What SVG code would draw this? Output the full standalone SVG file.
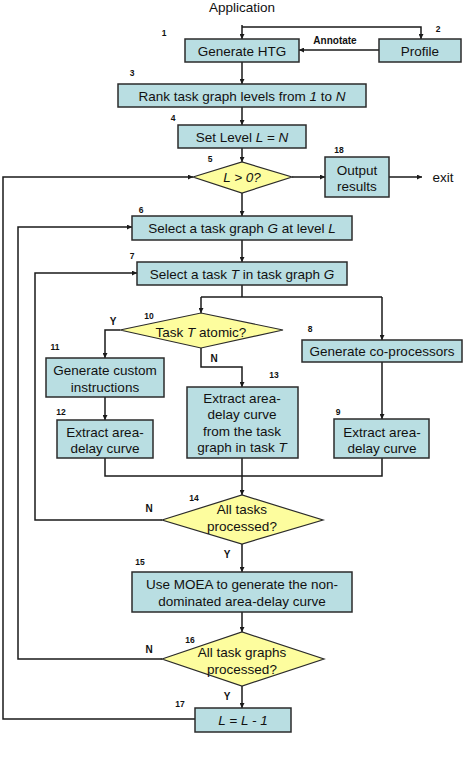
<svg xmlns="http://www.w3.org/2000/svg" width="474" height="758" viewBox="0 0 474 758">
<style>
.box{fill:#b9dee2;stroke:#2b2b2b;stroke-width:1.5}
.dia{fill:#fdfd9e;stroke:#2b2b2b;stroke-width:1.2}
.t{font-family:"Liberation Sans",Arial,sans-serif;font-size:13.5px;fill:#111;text-anchor:middle}
.i{font-style:italic}
.n{font-family:"Liberation Sans",Arial,sans-serif;font-size:8.5px;font-weight:bold;fill:#111;text-anchor:middle}
.l{font-family:"Liberation Sans",Arial,sans-serif;font-size:10px;font-weight:bold;fill:#111;text-anchor:middle}
.c{fill:none;stroke:#1a1a1a;stroke-width:1.5}
</style>
<defs>
<marker id="ah" viewBox="0 0 8 8" refX="8" refY="4" markerWidth="5" markerHeight="5" orient="auto" markerUnits="userSpaceOnUse">
<path d="M0,0 L8,4 L0,8 z" fill="#1a1a1a"/>
</marker>
</defs>
<rect width="474" height="758" fill="#fff"/>
<g id="connectors">
<path class="c" d="M242,25 V39" marker-end="url(#ah)"/>
<path class="c" d="M242,27 H421 V39" marker-end="url(#ah)"/>
<path class="c" d="M379,50 H299" marker-end="url(#ah)"/>
<path class="c" d="M242,62 V84" marker-end="url(#ah)"/>
<path class="c" d="M242,107 V125" marker-end="url(#ah)"/>
<path class="c" d="M242,148 V162" marker-end="url(#ah)"/>
<path class="c" d="M292,177 H325" marker-end="url(#ah)"/>
<path class="c" d="M389,177 H422" marker-end="url(#ah)"/>
<path class="c" d="M242,193 V216" marker-end="url(#ah)"/>
<path class="c" d="M242,240 V262" marker-end="url(#ah)"/>
<path class="c" d="M242,285 V297"/>
<path class="c" d="M201,297 H382"/>
<path class="c" d="M201,297 V313" marker-end="url(#ah)"/>
<path class="c" d="M382,297 V340" marker-end="url(#ah)"/>
<path class="c" d="M120,330 H105 V358" marker-end="url(#ah)"/>
<path class="c" d="M201,348 V367 H242 V387" marker-end="url(#ah)"/>
<path class="c" d="M105,397 V420" marker-end="url(#ah)"/>
<path class="c" d="M382,362 V419" marker-end="url(#ah)"/>
<path class="c" d="M105,458 V476 H382 V458"/>
<path class="c" d="M242,458 V495" marker-end="url(#ah)"/>
<path class="c" d="M242,544 V572" marker-end="url(#ah)"/>
<path class="c" d="M242,612 V632" marker-end="url(#ah)"/>
<path class="c" d="M242,686 V708" marker-end="url(#ah)"/>
<path class="c" d="M162,520 H35 V273 H137" marker-end="url(#ah)"/>
<path class="c" d="M162,659 H18 V227 H132" marker-end="url(#ah)"/>
<path class="c" d="M195,719 H3 V177 H193" marker-end="url(#ah)"/>
</g>
<g id="app"><text class="t" x="242" y="12">Application</text></g>
<text class="l" x="335" y="44">Annotate</text>
<g id="n1"><rect class="box" x="185" y="39" width="114" height="23"/><text class="t" x="242" y="55.5">Generate HTG</text><text class="n" x="164" y="36">1</text></g>
<g id="n2"><rect class="box" x="379" y="39" width="82" height="23"/><text class="t" x="420" y="55.5">Profile</text><text class="n" x="438" y="32">2</text></g>
<g id="n3"><rect class="box" x="118" y="84" width="248" height="23"/><text class="t" x="242" y="100.5">Rank task graph levels from <tspan class="i">1</tspan> to <tspan class="i">N</tspan></text><text class="n" x="132" y="76">3</text></g>
<g id="n4"><rect class="box" x="178" y="125" width="128" height="23"/><text class="t" x="242" y="141.5">Set Level <tspan class="i">L</tspan> = <tspan class="i">N</tspan></text><text class="n" x="173" y="121">4</text></g>
<g id="n5"><polygon class="dia" points="193,177 242,162 292,177 242,193"/><text class="t i" x="242" y="182">L &gt; 0?</text><text class="n" x="210" y="162">5</text></g>
<g id="n18"><rect class="box" x="325" y="157" width="64" height="40"/><text class="t" x="357" y="174.5">Output</text><text class="t" x="357" y="190.5">results</text><text class="n" x="339" y="153">18</text></g>
<g id="exit"><text class="t" x="443" y="182">exit</text></g>
<g id="n6"><rect class="box" x="132" y="216" width="220" height="24"/><text class="t" x="242" y="232.5">Select a task graph <tspan class="i">G</tspan> at level <tspan class="i">L</tspan></text><text class="n" x="141" y="213">6</text></g>
<g id="n7"><rect class="box" x="137" y="262" width="210" height="23"/><text class="t" x="242" y="278.5">Select a task <tspan class="i">T</tspan> in task graph <tspan class="i">G</tspan></text><text class="n" x="132" y="259">7</text></g>
<g id="n10"><polygon class="dia" points="120,330 201,313 283,330 201,348"/><text class="t" x="201" y="337">Task <tspan class="i">T</tspan> atomic?</text><text class="n" x="149" y="319">10</text><text class="l" x="113" y="325">Y</text><text class="l" x="214" y="362">N</text></g>
<g id="n8"><rect class="box" x="302" y="340" width="160" height="22"/><text class="t" x="382" y="355.5">Generate co-processors</text><text class="n" x="310" y="332">8</text></g>
<g id="n11"><rect class="box" x="46" y="358" width="118" height="39"/><text class="t" x="105" y="374.5">Generate custom</text><text class="t" x="105" y="391.5">instructions</text><text class="n" x="55" y="350">11</text></g>
<g id="n12"><rect class="box" x="57" y="420" width="96" height="38"/><text class="t" x="105" y="436.5">Extract area-</text><text class="t" x="105" y="452.5">delay curve</text><text class="n" x="61" y="415">12</text></g>
<g id="n13"><rect class="box" x="187" y="387" width="111" height="71"/><text class="t" x="242" y="402.5">Extract area-</text><text class="t" x="242" y="419">delay curve</text><text class="t" x="242" y="435.5">from the task</text><text class="t" x="242" y="451.5">graph in task <tspan class="i">T</tspan></text><text class="n" x="274" y="378">13</text></g>
<g id="n9"><rect class="box" x="334" y="419" width="95" height="39"/><text class="t" x="382" y="436.5">Extract area-</text><text class="t" x="382" y="452.5">delay curve</text><text class="n" x="338" y="415">9</text></g>
<g id="n14"><polygon class="dia" points="162,520 242,495 323,520 242,544"/><text class="t" x="242" y="513.5">All tasks</text><text class="t" x="242" y="530.5">processed?</text><text class="n" x="194" y="501">14</text><text class="l" x="149" y="512">N</text><text class="l" x="227" y="558">Y</text></g>
<g id="n15"><rect class="box" x="132" y="572" width="220" height="40"/><text class="t" x="242" y="588.5">Use MOEA to generate the non-</text><text class="t" x="242" y="605.5">dominated area-delay curve</text><text class="n" x="140" y="565">15</text></g>
<g id="n16"><polygon class="dia" points="162,659 242,632 324,659 242,686"/><text class="t" x="242" y="656.5">All task graphs</text><text class="t" x="242" y="673.5">processed?</text><text class="n" x="190" y="643">16</text><text class="l" x="149" y="653">N</text><text class="l" x="227" y="700">Y</text></g>
<g id="n17"><rect class="box" x="195" y="708" width="96" height="24"/><text class="t i" x="243" y="724.5">L = L - 1</text><text class="n" x="180" y="707">17</text></g>
</svg>
